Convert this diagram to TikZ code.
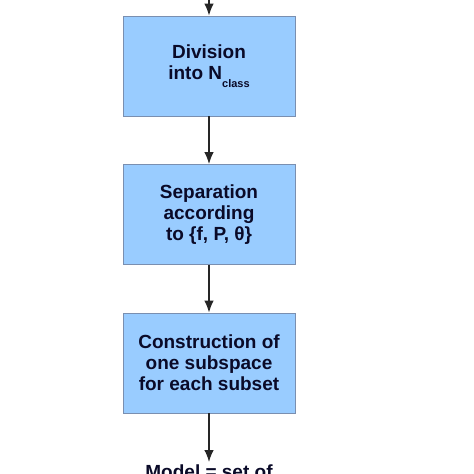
\documentclass[tikz,border=0pt]{standalone}
\usepackage{fontspec}
\setmainfont{Liberation Sans}
\usepackage{xcolor}
\usepackage{tikz}
\usetikzlibrary{arrows.meta}

\definecolor{boxfill}{HTML}{99CCFF}
\definecolor{boxline}{HTML}{7A8FB0}
\definecolor{boxtext}{HTML}{0A0A28}

\tikzset{
    stagebox/.style = {draw = boxline, line width = 0.8pt, fill = boxfill,
        minimum width = 172pt, minimum height = 100pt, inner sep = 0pt,
        align = center, text = boxtext,
        font = \fontsize{19}{21}\selectfont\bfseries},
    flow/.style = {draw = black!85, line width = 1.4pt,
        -{Latex[length = 12pt, width = 9.5pt]}}
}

\begin{document}
\begin{tikzpicture}[x = 1pt, y = 1pt]
        \useasboundingbox (0, 0) rectangle (474, -474);

        \coordinate (in) at (209, 0);
        \node[stagebox] (division) at (209, -66)
            {Division\\into N\raisebox{-8pt}{\fontsize{11}{13}\selectfont class}};
        \node[stagebox] (separation) at (209, -214.5)
            {Separation\\according\\to \{f, P, θ\}};
        \node[stagebox] (construction) at (209, -363)
            {Construction of\\one subspace\\for each subset};
        \node[anchor = north, inner sep = 3pt, text = boxtext,
            font = \fontsize{19}{21}\selectfont\bfseries] (model) at (209, -462)
            {Model = set of};

        \draw[flow] (in) -- (division);
        \draw[flow] (division) -- (separation);
        \draw[flow] (separation) -- (construction);
        \draw[flow] (construction) -- (model);
    \end{tikzpicture}
\end{document}
